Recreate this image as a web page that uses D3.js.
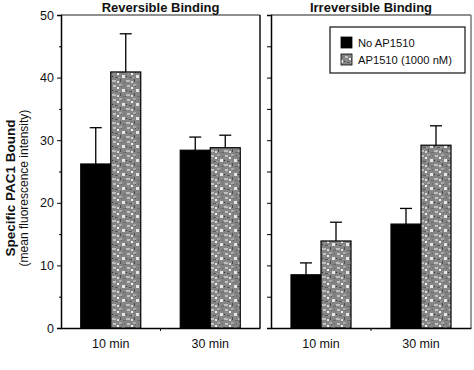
<!DOCTYPE html>
<html>
<head>
<meta charset="utf-8">
<script src="https://cdn.jsdelivr.net/npm/d3@7"></script>
<style>
  body { margin: 0; background: #fff; }
  svg { font-family: "Liberation Sans", Arial, sans-serif; }
</style>
</head>
<body>
<svg id="container" width="474" height="370"></svg>
<script>
// data
const groups = ["10 min", "30 min"];
const seriesNames = ["No AP1510", "AP1510 (1000 nM)"];
const panelTitles = ["Reversible Binding", "Irreversible Binding"];

const revNoAP = [26.2, 28.4];
const revNoAPErr = [5.8, 2.1];
const revAP = [40.9, 28.8];
const revAPErr = [6.1, 2.0];

const irrNoAP = [8.5, 16.6];
const irrNoAPErr = [1.9, 2.5];
const irrAP = [13.9, 29.2];
const irrAPErr = [3.0, 3.1];

const yTicks = [0, 10, 20, 30, 40, 50];
const yMinorTicks = [5, 15, 25, 35, 45];

const svg = d3.select("#container");

// mottled grey fill used for the AP1510 bars
const defs = svg.append("defs");
const pat = defs.append("pattern")
	.attr("id", "speckle")
	.attr("patternUnits", "userSpaceOnUse")
	.attr("width", 14)
	.attr("height", 14);
pat.append("rect").attr("width", 14).attr("height", 14).attr("fill", "#858585");
[[1,1,3,2,"#c4c4c4"],[7,0,3,2,"#a8a8a8"],[10,5,3,3,"#e6e6e6"],[3,7,3,1,"#5a5a5a"],
 [0,10,4,2,"#bdbdbd"],[8,9,1,3,"#4e4e4e"],[5,3,2,2,"#f4f4f4"],[11,12,3,1,"#6a6a6a"],
 [2,4,1,1,"#9c9c9c"],[9,2,1,1,"#555"],[5,11,2,2,"#dcdcdc"],[12,1,1,2,"#707070"],
 [0,6,1,1,"#333"],[6,7,2,1,"#a0a0a0"]].forEach(function(c) {
	pat.append("rect").attr("x", c[0]).attr("y", c[1]).attr("width", c[2]).attr("height", c[3]).attr("fill", c[4]);
});

const yScale = d3.scaleLinear().domain([0, 50]).range([328, 15]);

const panels = [
	{x0: 61, x1: 260, title: panelTitles[0], labels: true,
	 noap: revNoAP, noapErr: revNoAPErr, ap: revAP, apErr: revAPErr},
	{x0: 271, x1: 471, title: panelTitles[1], labels: false,
	 noap: irrNoAP, noapErr: irrNoAPErr, ap: irrAP, apErr: irrAPErr}
];

const barW = 30;

panels.forEach(function(p) {
	const xScale = d3.scaleBand().domain(groups).range([p.x0, p.x1]).padding(0);

	const g = svg.append("g");

	// frame
	g.append("line").attr("x1", p.x0).attr("x2", p.x1).attr("y1", yScale(50)).attr("y2", yScale(50))
		.attr("stroke", "#222").attr("stroke-width", 1.2);
	g.append("line").attr("x1", p.x1).attr("x2", p.x1).attr("y1", yScale(50)).attr("y2", yScale(0))
		.attr("stroke", p.labels ? "#111" : "#777").attr("stroke-width", 1.5);

	// y axis
	const yAxis = d3.axisLeft(yScale).tickValues(yTicks).tickSize(4).tickPadding(3)
		.tickFormat(p.labels ? d3.format("d") : "");
	const gY = g.append("g").attr("transform", "translate(" + p.x0 + ",0)").call(yAxis);
	gY.select(".domain").attr("stroke-width", 1.5);
	gY.selectAll(".tick text").attr("font-size", 12.5).attr("fill", "#111");
	g.append("g").attr("transform", "translate(" + p.x0 + ",0)")
		.call(d3.axisLeft(yScale).tickValues(yMinorTicks).tickSize(p.labels ? 2 : 4).tickFormat(""))
		.select(".domain").remove();

	// x axis: tick between the groups only
	const gX = g.append("g").attr("transform", "translate(0," + yScale(0) + ")")
		.call(d3.axisBottom(xScale).tickSize(0).tickPadding(11).tickSizeOuter(0));
	gX.select(".domain").attr("stroke-width", 1.5);
	gX.selectAll(".tick text").attr("font-size", 12.5).attr("fill", "#111");
	gX.append("line")
		.attr("x1", (p.x0 + p.x1) / 2).attr("x2", (p.x0 + p.x1) / 2)
		.attr("y1", 0).attr("y2", 3).attr("stroke", "#111");

	// bars
	const rows = groups.map(function(gr, i) {
		return [
			{g: gr, v: p.noap[i], e: p.noapErr[i], off: -barW, fill: "#000"},
			{g: gr, v: p.ap[i], e: p.apErr[i], off: 0, fill: "url(#speckle)"}
		];
	}).flat();

	const cx = d => xScale(d.g) + xScale.bandwidth() / 2 + d.off;

	g.selectAll(".err").data(rows).enter().append("line")
		.attr("x1", d => cx(d) + barW / 2).attr("x2", d => cx(d) + barW / 2)
		.attr("y1", d => yScale(d.v)).attr("y2", d => yScale(d.v + d.e))
		.attr("stroke", "#000").attr("stroke-width", 1.3);
	g.selectAll(".cap").data(rows).enter().append("line")
		.attr("x1", d => cx(d) + barW / 2 - 6).attr("x2", d => cx(d) + barW / 2 + 6)
		.attr("y1", d => yScale(d.v + d.e)).attr("y2", d => yScale(d.v + d.e))
		.attr("stroke", "#000").attr("stroke-width", 1.3);

	g.selectAll(".bar").data(rows).enter().append("rect")
		.attr("x", d => cx(d))
		.attr("y", d => yScale(d.v))
		.attr("width", barW)
		.attr("height", d => yScale(0) - yScale(d.v))
		.attr("fill", d => d.fill)
		.attr("stroke", "#000")
		.attr("stroke-width", 1.2);

	// panel title
	g.append("text")
		.attr("x", (p.x0 + p.x1) / 2).attr("y", 11.5)
		.attr("text-anchor", "middle")
		.attr("font-size", 13).attr("font-weight", "bold").attr("fill", "#111")
		.text(p.title);
});

// legend
const leg = svg.append("g").attr("transform", "translate(330,27)");
leg.append("rect").attr("width", 135).attr("height", 46)
	.attr("fill", "#fff").attr("stroke", "#111").attr("stroke-width", 1.2);
seriesNames.forEach(function(name, i) {
	leg.append("rect").attr("x", 11).attr("y", 10 + i * 17).attr("width", 11).attr("height", 11)
		.attr("fill", i === 0 ? "#000" : "url(#speckle)").attr("stroke", "#000").attr("stroke-width", 0.8);
	leg.append("text").attr("x", 28).attr("y", 19.5 + i * 17)
		.attr("font-size", 11.2).attr("fill", "#111").text(name);
});

// y axis title
svg.append("text")
	.attr("transform", "translate(15,188) rotate(-90)")
	.attr("text-anchor", "middle")
	.attr("font-size", 13.5).attr("font-weight", "bold").attr("fill", "#111")
	.text("Specific PAC1 Bound");
svg.append("text")
	.attr("transform", "translate(28,188) rotate(-90)")
	.attr("text-anchor", "middle")
	.attr("font-size", 12).attr("fill", "#111")
	.text("(mean fluorescence intensity)");
</script>
</body>
</html>
